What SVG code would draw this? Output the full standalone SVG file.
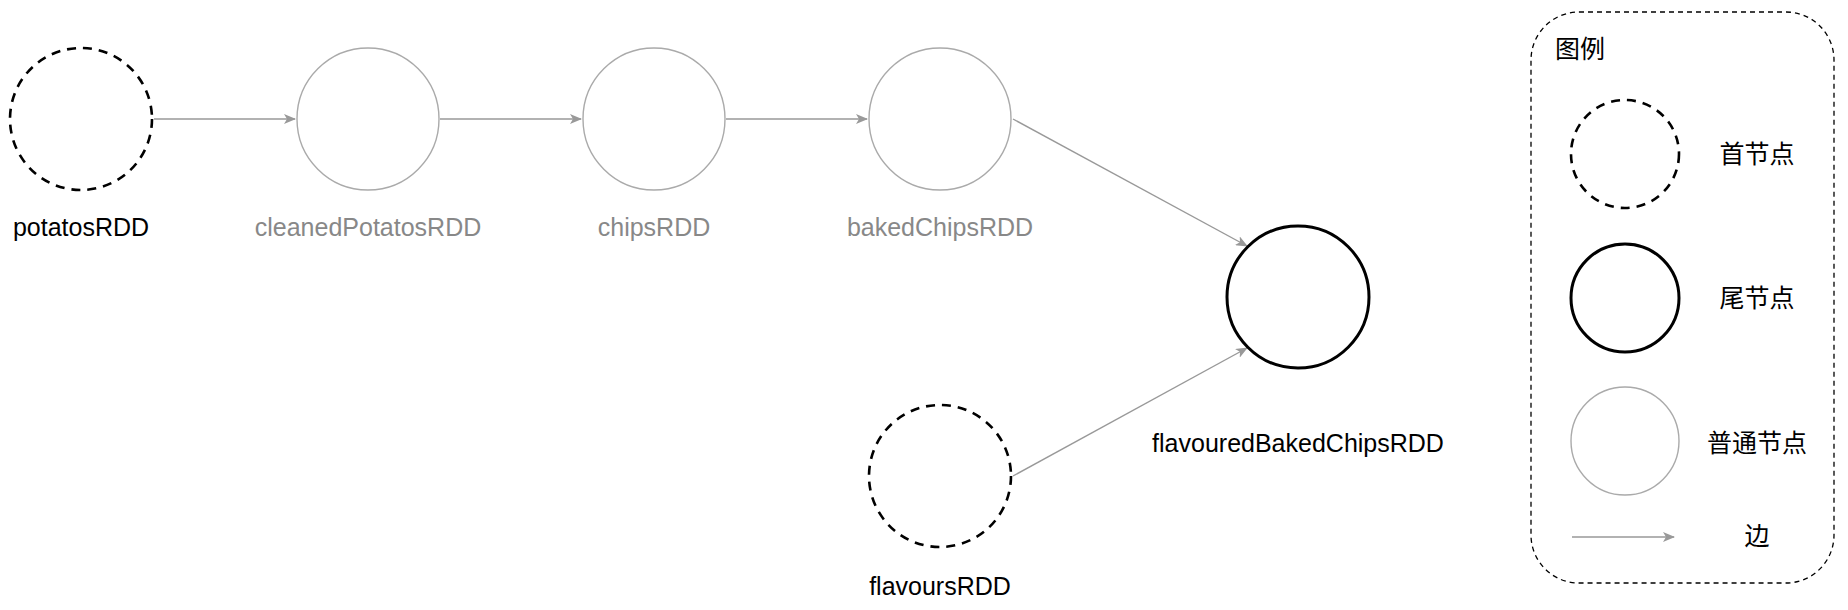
<svg xmlns="http://www.w3.org/2000/svg" width="1848" height="610" viewBox="0 0 1848 610">
<style>
text{font-family:"Liberation Sans","Noto Sans CJK SC",sans-serif;font-size:25px;text-anchor:middle;dominant-baseline:central}
.head{fill:#fff;stroke:#000;stroke-width:2.6;stroke-dasharray:9 7}
.tail{fill:#fff;stroke:#000;stroke-width:3}
.norm{fill:#fff;stroke:#aaa;stroke-width:1.4}
.edge{stroke:#999;stroke-width:1.4;fill:none;marker-end:url(#ah)}
.dark{fill:#000}
.grey{fill:#888}
</style>
<defs>
<marker id="ah" viewBox="0 0 12 10" refX="11" refY="5" markerWidth="12" markerHeight="10" markerUnits="userSpaceOnUse" orient="auto">
<path d="M0,0 L12,5 L0,10 L3,5 Z" fill="#999"/>
</marker>
</defs>
<g id="connectors">
<line class="edge" x1="154" y1="119" x2="295" y2="119"/>
<line class="edge" x1="440" y1="119" x2="581" y2="119"/>
<line class="edge" x1="726" y1="119" x2="867" y2="119"/>
<line class="edge" x1="1013" y1="119" x2="1247" y2="246"/>
<line class="edge" x1="1013" y1="476" x2="1247" y2="348"/>
</g>
<g id="potatosRDD"><circle class="head" cx="81" cy="119" r="71"/><text class="dark" x="81" y="227">potatosRDD</text></g>
<g id="cleanedPotatosRDD"><circle class="norm" cx="368" cy="119" r="71"/><text class="grey" x="368" y="227">cleanedPotatosRDD</text></g>
<g id="chipsRDD"><circle class="norm" cx="654" cy="119" r="71"/><text class="grey" x="654" y="227">chipsRDD</text></g>
<g id="bakedChipsRDD"><circle class="norm" cx="940" cy="119" r="71"/><text class="grey" x="940" y="227">bakedChipsRDD</text></g>
<g id="flavouredBakedChipsRDD"><circle class="tail" cx="1298" cy="297" r="71"/><text class="dark" x="1298" y="443">flavouredBakedChipsRDD</text></g>
<g id="flavoursRDD"><circle class="head" cx="940" cy="476" r="71"/><text class="dark" x="940" y="586">flavoursRDD</text></g>
<g id="legend">
<rect x="1531" y="12" width="303" height="571" rx="48" fill="none" stroke="#000" stroke-width="1.3" stroke-dasharray="5 4"/>
<text class="dark" x="1555" y="49" style="text-anchor:start">图例</text>
<ellipse class="head" cx="1625" cy="154" rx="54" ry="54"/>
<text class="dark" x="1757" y="154">首节点</text>
<ellipse class="tail" cx="1625" cy="298" rx="54" ry="54"/>
<text class="dark" x="1757" y="298">尾节点</text>
<ellipse class="norm" cx="1625" cy="441" rx="54" ry="54"/>
<text class="dark" x="1757" y="443">普通节点</text>
<line class="edge" x1="1572" y1="537" x2="1674" y2="537"/>
<text class="dark" x="1757" y="536">边</text>
</g>
</svg>
